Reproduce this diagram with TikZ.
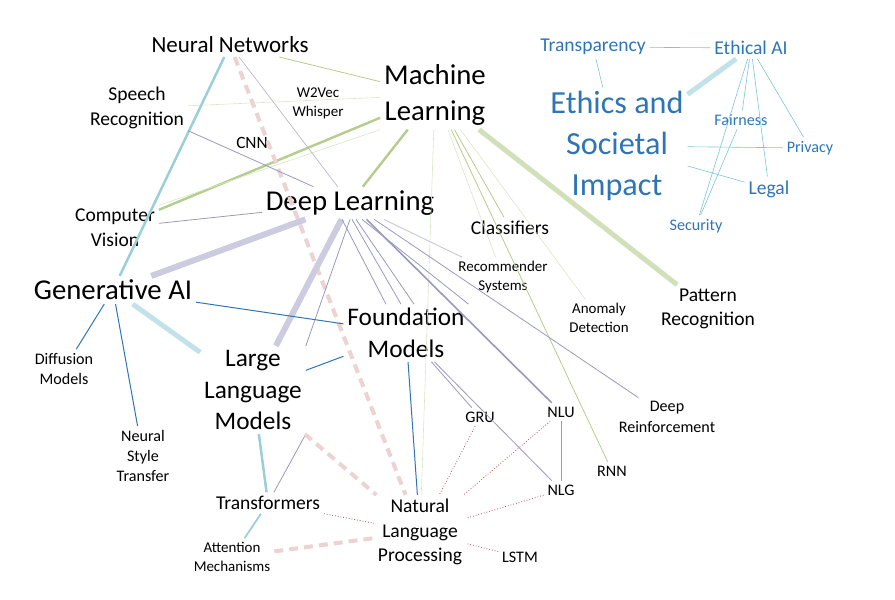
\documentclass[tikz,border=0pt]{standalone}
\usepackage{fontspec}
\setmainfont{Carlito}
\begin{document}
\begin{tikzpicture}[x=1pt,y=-1pt,
 lab/.style={align=center,inner sep=1pt,outer sep=3pt,font=\fontsize{\fpeval{#1*1.15}}{\fpeval{#1*1.45}}\selectfont},
 lab/.default=14,
 blab/.style={lab=#1,text=eblue},
 gr/.style={draw=mlg,line width=0.8pt},
 grt/.style={draw=mlg,line width=2.4pt},
 grl/.style={draw=mlg!50,line width=0.6pt},
 pu/.style={draw=dlp,line width=0.8pt},
 put/.style={draw=dlp!50,line width=6pt},
 tl/.style={draw=teal1,line width=2.5pt},
 bl/.style={draw=eblue,line width=1pt},
 pk/.style={draw=pink1,line width=4pt,dash pattern=on 9pt off 6pt},
 rd/.style={draw=red1,line width=0.8pt,dotted},
 et/.style={draw=teal2,line width=0.6pt}]
\definecolor{mlg}{HTML}{B4CC8C}
\definecolor{dlp}{HTML}{9A98BE}
\definecolor{teal1}{HTML}{9ACFDA}
\definecolor{teal2}{HTML}{7CC4D8}
\definecolor{eblue}{HTML}{2E75B6}
\definecolor{pink1}{HTML}{EDD2D2}
\definecolor{red1}{HTML}{C0504D}
\useasboundingbox (0,0) rectangle (895,600);
\node[lab=20] (nn) at (230,45) {Neural Networks};
\node[lab=25] (ml) at (435,95) {Machine\\Learning};
\node[lab=17] (sr) at (137,108) {Speech\\Recognition};
\node[lab=13] (w2v) at (318,103) {W2Vec\\Whisper};
\node[lab=15] (cnn) at (252,143) {CNN};
\node[lab=25] (dl) at (350,203) {Deep Learning};
\node[lab=17] (cv) at (115,228) {Computer\\Vision};
\node[lab=25] (gai) at (113,290) {Generative AI};
\node[lab=14] (dm) at (64,369) {Diffusion\\Models};
\node[lab=14] (nst) at (143,456) {Neural\\Style\\Transfer};
\node[lab=22] (llm) at (253,390) {Large\\Language\\Models};
\node[lab=22] (fm) at (406,333) {Foundation\\Models};
\node[lab=17] (cls) at (510,228) {Classifiers};
\node[lab=13] (rs) at (503,277) {Recommender\\Systems};
\node[lab=13] (ad) at (599,318) {Anomaly\\Detection};
\node[lab=17] (pr) at (708,309) {Pattern\\Recognition};
\node[lab=14] (drl) at (667,417) {Deep\\Reinforcement};
\node[lab=14] (gru) at (480,417) {GRU};
\node[lab=14] (nlu) at (561,412) {NLU};
\node[lab=14] (nlg) at (561,490) {NLG};
\node[lab=14] (rnn) at (612,471) {RNN};
\node[lab=17] (tr) at (268,503) {Transformers};
\node[lab=17] (nlp) at (420,532) {Natural\\Language\\Processing};
\node[lab=14] (lstm) at (520,557) {LSTM};
\node[lab=13] (am) at (232,557) {Attention\\Mechanisms};
\node[blab=17] (tp) at (593,47) {Transparency};
\node[blab=17] (eai) at (751,48) {Ethical AI};
\node[blab=28] (esi) at (617,146) {Ethics and\\Societal\\Impact};
\node[blab=14] (fa) at (741,120) {Fairness};
\node[blab=14] (pv) at (810,148) {Privacy};
\node[blab=17] (lg) at (769,189) {Legal};
\node[blab=14] (sec) at (696,226) {Security};
% ML edges
\draw[gr] (nn) -- (ml);
\draw[grl] (sr) -- (ml);
\draw[grt] (ml) -- (cv);
\draw[grl] (ml.south west) -- (cv.north east);
\draw[grt] (ml) -- (dl);
\draw[grl] (ml) -- (nlp);
\draw[gr] (ml) -- (cls);
\draw[grl] (ml) -- (rs);
\draw[grl] (ml) -- (ad);
\draw[gr] (ml) -- (rnn);
\draw[draw=mlg!60,line width=5pt] (ml) -- (pr);
% NN edges
\draw[tl] (nn) -- (gai);
\draw[pk] (nn) -- (nlp);
\draw[draw=dlp!70,line width=0.7pt] (nn) -- (dl);
% DL edges
\draw[pu] (sr) -- (dl);
\draw[pu] (cv) -- (dl);
\draw[put] (gai) -- (dl);
\draw[put] (dl) -- (llm);
\draw[pu] (dl.south) -- (llm.north east);
\draw[pu] ([xshift=-8pt]dl.south) -- ([xshift=-20pt]fm.north);
\draw[pu] ([xshift=2pt]dl.south) -- ([xshift=-5pt]fm.north);
\draw[pu] ([xshift=6pt]dl.south) -- ([xshift=8pt]fm.north);
\draw[pu] ([xshift=12pt]dl.south) -- (fm.north east);
\draw[draw=dlp,line width=1.6pt] (dl) -- (nlu);
\draw[pu] (dl) -- (drl);
\draw[draw=dlp!50,line width=1pt] (dl) -- (rs);
% GenAI edges
\draw[bl] (gai) -- (fm);
\draw[bl] (gai) -- (dm);
\draw[bl] (gai) -- (nst);
\draw[draw=teal1!60,line width=5pt] (gai) -- (llm);
% Foundation edges
\draw[bl] (llm) -- (fm);
\draw[bl] (fm) -- (nlp);
\draw[pu] (fm) -- (gru);
\draw[pu] (fm) -- (nlg);
\draw[pu] (nlu) -- (nlg);
% LLM edges
\draw[tl] (llm) -- (tr);
\draw[pu] (llm.south east) -- (tr);
\draw[pk] (llm) -- (nlp);
\draw[tl,line width=1.8pt] (tr) -- (am);
\draw[pk] (am) -- (nlp);
% NLP dotted
\draw[rd] (tr) -- (nlp);
\draw[rd] (gru) -- (nlp);
\draw[rd] (nlu) -- (nlp);
\draw[rd] (nlg) -- (nlp);
\draw[rd] (lstm) -- (nlp);
% Ethics
\draw[et] (tp) -- (eai);
\draw[et] (tp) -- (esi);
\draw[draw=teal1!60,line width=5pt] (eai) -- (esi);
\draw[et] (eai) -- (fa);
\draw[et] (eai) -- (pv);
\draw[et] (eai) -- (lg);
\draw[et] (eai) -- (sec);
\draw[et] (esi) -- (pv);
\draw[et] (esi) -- (lg);
\draw[et] (fa) -- (sec);
\end{tikzpicture}
\end{document}
